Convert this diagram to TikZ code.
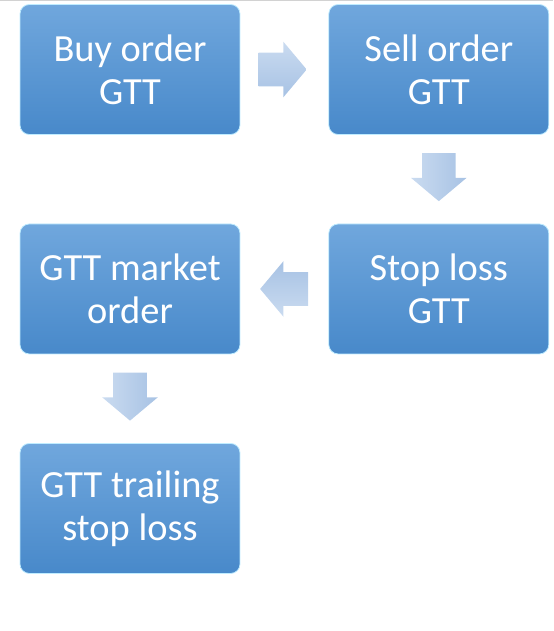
\documentclass[tikz,border=0pt]{standalone}
\usepackage{fontspec}
\setmainfont{Carlito}
\usetikzlibrary{positioning,shapes.arrows,calc}

\tikzset{
	stepbox/.style={rectangle, rounded corners=7pt, draw=blue!30!cyan!25!white, line width=0.6pt,
		top color=boxtop, bottom color=boxbot, text=white, align=center,
		minimum width=165pt, minimum height=97.5pt, inner sep=0pt,
		font=\fontsize{28.8}{32.3}\selectfont},
	flowarrow/.style={single arrow, draw=none, top color=arrtop, bottom color=arrbot,
		minimum height=36pt, inner xsep=0pt, inner ysep=12.4pt, anchor=tail,
		single arrow head extend=8.25pt, single arrow tip angle=100},
	downarrow/.style={flowarrow, rotate=-90, left color=arrtop, right color=arrbot}
}
\definecolor{boxtop}{HTML}{70A7DD}
\definecolor{boxbot}{HTML}{4889CA}
\definecolor{arrtop}{HTML}{CADBF0}
\definecolor{arrbot}{HTML}{A7C2E4}

\begin{document}
\begin{tikzpicture}[x=0.75pt,y=-0.75pt]
		\useasboundingbox (0,0) rectangle (553,631);
		\draw[gray!35, line width=1pt] (0,0.5) -- (553,0.5);
		
		\node[stepbox] (buy) at (130,69.5) {Buy order\\GTT};
		\node[stepbox, right=66pt of buy] (sell) {Sell order\\GTT};
		\node[stepbox, below=66.5pt of sell] (stop) {Stop loss\\GTT};
		\node[stepbox, below=66.5pt of buy] (market) {GTT market\\order};
		\node[stepbox, below=66.5pt of market] (trail) {GTT trailing\\stop loss};
		
		% block arrows between the steps
		\node[flowarrow] (a1) at ($(buy.east)+(18,0)$) {};
		\node[downarrow] (a2) at ($(sell.south)+(0,18)$) {};
		\node[flowarrow, rotate=180, top color=arrbot, bottom color=arrtop] (a3) at ($(stop.west)+(-20,0)$) {};
		\node[downarrow] (a4) at ($(market.south)+(0,18)$) {};
	\end{tikzpicture}
\end{document}
